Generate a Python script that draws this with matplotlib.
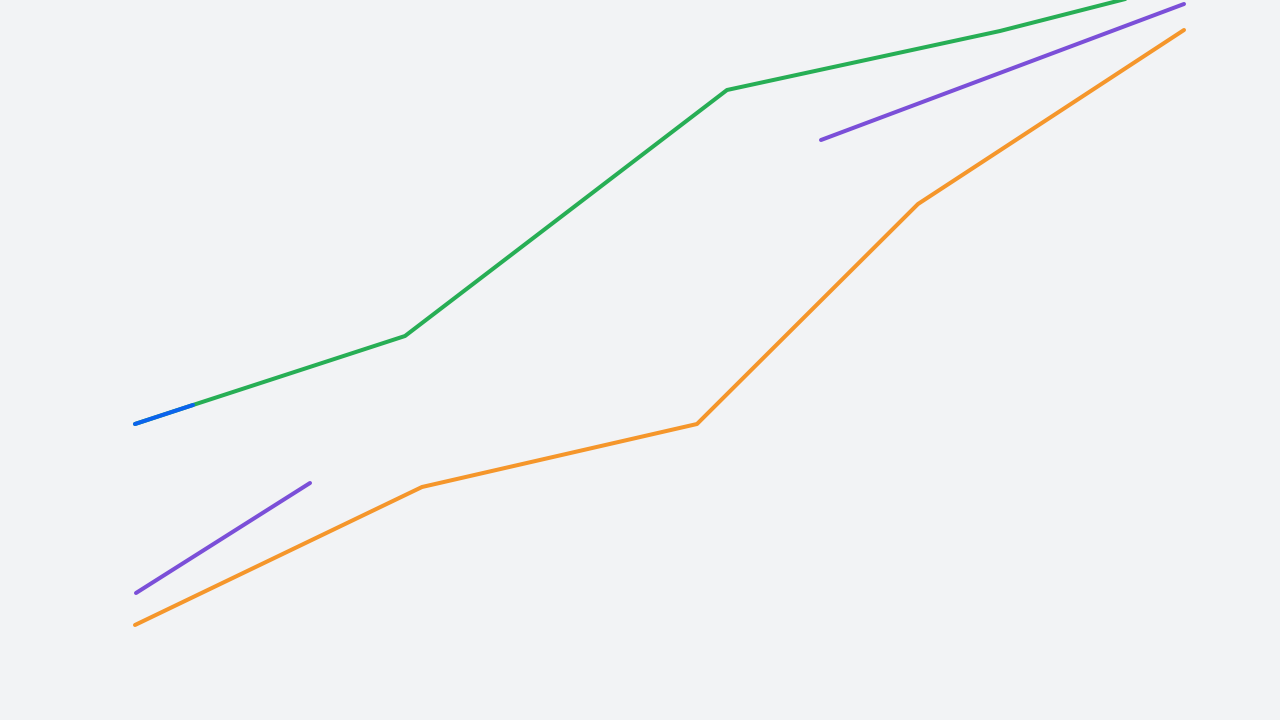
import matplotlib
matplotlib.use("Agg")
import matplotlib.pyplot as plt

# Series values (x, y)
green_x = [135, 193, 405, 727, 1000, 1184]
green_y = [296, 315, 384, 630, 689, 736]

blue_x = [135, 193]
blue_y = [296, 315]

purple1_x = [136, 310]
purple1_y = [127, 237]

purple2_x = [821, 1184]
purple2_y = [580, 716]

orange_x = [135, 422, 697, 918, 1184]
orange_y = [95, 233, 296, 516, 690]

BG = "#f2f3f5"

fig = plt.figure(figsize=(12.8, 7.2), dpi=100)
fig.patch.set_facecolor(BG)
ax = fig.add_axes([0, 0, 1, 1])
ax.set_facecolor(BG)
ax.set_xlim(0, 1280)
ax.set_ylim(0, 720)
ax.axis("off")

kw = dict(linewidth=2.9, solid_capstyle="round", solid_joinstyle="round")
ax.plot(green_x, green_y, color="#27ae55", **kw)
ax.plot(blue_x, blue_y, color="#0b63ee", **kw)
ax.plot(orange_x, orange_y, color="#f5962b", **kw)
ax.plot(purple1_x, purple1_y, color="#7b4fd8", **kw)
ax.plot(purple2_x, purple2_y, color="#7b4fd8", **kw)

fig.savefig("out.png", dpi=100, facecolor=BG)
